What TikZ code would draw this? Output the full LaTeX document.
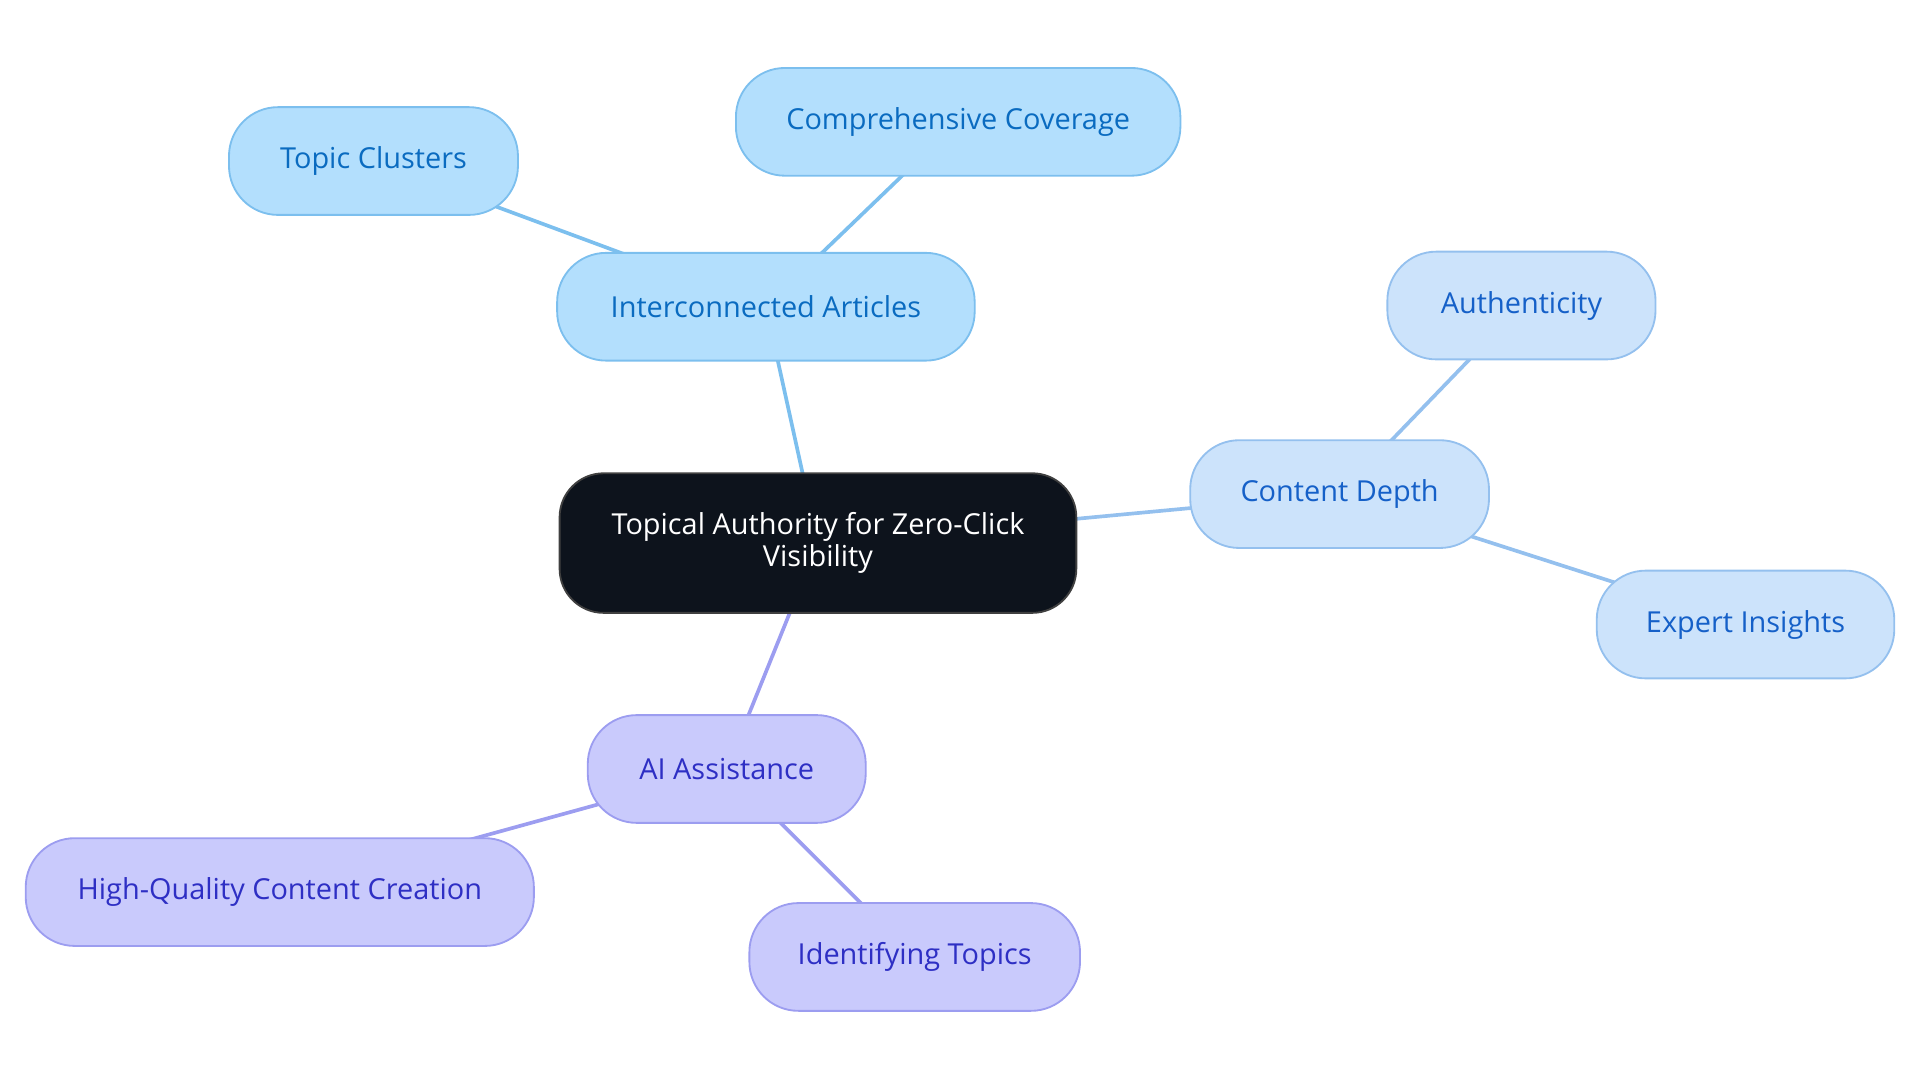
\documentclass[tikz,border=0pt]{standalone}
\usepackage{fontspec}
\setmainfont{Open Sans}
\usetikzlibrary{backgrounds}
\definecolor{bAfill}{HTML}{B3DFFD}
\definecolor{bAline}{HTML}{7CBFEE}
\definecolor{bAtext}{HTML}{0A6BC0}
\definecolor{bBfill}{HTML}{CCE3FB}
\definecolor{bBline}{HTML}{94C0EE}
\definecolor{bBtext}{HTML}{1560C8}
\definecolor{bCfill}{HTML}{C9CAFC}
\definecolor{bCline}{HTML}{9C9DF0}
\definecolor{bCtext}{HTML}{2E2FC4}
\definecolor{rootfill}{HTML}{0D131C}
\tikzset{
  box/.style={draw, line width=1.5pt, rounded corners=40pt, minimum height=88pt, inner sep=0pt, align=center, font=\fontsize{23.6}{26.5}\selectfont},
  groupA/.style={box, fill=bAfill, draw=bAline, text=bAtext},
  groupB/.style={box, fill=bBfill, draw=bBline, text=bBtext},
  groupC/.style={box, fill=bCfill, draw=bCline, text=bCtext},
  rootbox/.style={box, fill=rootfill, draw=black!75, text=white, rounded corners=36pt, minimum height=114pt},
  link/.style={line width=3pt},
}
\begin{document}
\begin{tikzpicture}[x=1pt,y=-1pt]
\useasboundingbox (0,0) rectangle (1568,884.5);
% nodes
\node[rootbox, minimum width=422pt] (root) at (668,443.5) {Topical Authority for Zero-Click\\Visibility};
\node[groupA, minimum width=341pt] (inter) at (625.5,250.5) {Interconnected Articles};
\node[groupA, minimum width=236pt] (clus) at (305,131.5) {Topic Clusters};
\node[groupA, minimum width=363pt] (comp) at (782.5,99.5) {Comprehensive Coverage};
\node[groupB, minimum width=244pt] (depth) at (1094,403.5) {Content Depth};
\node[groupB, minimum width=219pt] (auth) at (1242.5,249.5) {Authenticity};
\node[groupB, minimum width=243pt] (expert) at (1425.5,510) {Expert Insights};
\node[groupC, minimum width=227pt] (ai) at (593.5,628) {AI Assistance};
\node[groupC, minimum width=415pt] (hq) at (228.5,728.5) {High-Quality Content Creation};
\node[groupC, minimum width=270pt] (ident) at (747,781.5) {Identifying Topics};
% edges (behind nodes)
\begin{pgfonlayer}{background}
\draw[link, draw=bAline] (root.center) -- (inter.center);
\draw[link, draw=bAline] (inter.center) -- (clus.center);
\draw[link, draw=bAline] (inter.center) -- (comp.center);
\draw[link, draw=bBline] (root.center) -- (depth.center);
\draw[link, draw=bBline] (depth.center) -- (auth.center);
\draw[link, draw=bBline] (depth.center) -- (expert.center);
\draw[link, draw=bCline] (root.center) -- (ai.center);
\draw[link, draw=bCline] (ai.center) -- (hq.center);
\draw[link, draw=bCline] (ai.center) -- (ident.center);
\end{pgfonlayer}
\end{tikzpicture}
\end{document}
